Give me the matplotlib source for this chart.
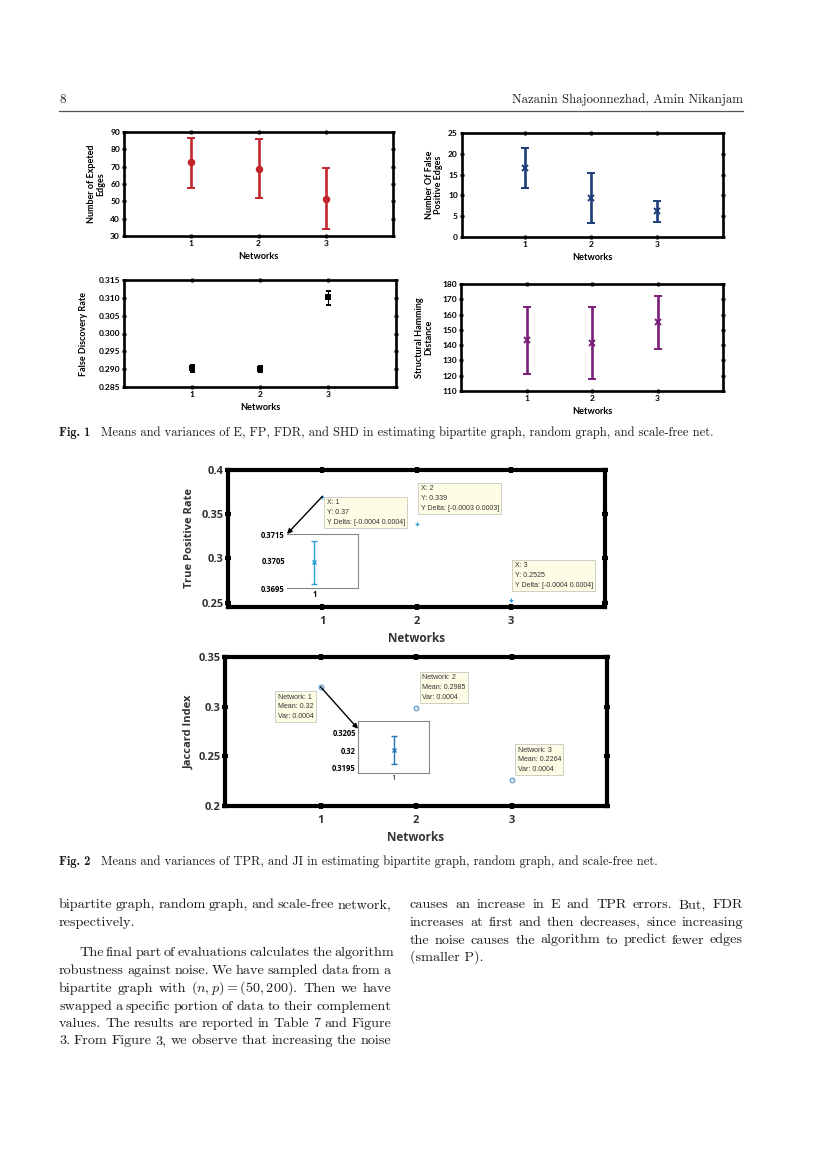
import matplotlib.pyplot as plt
import numpy as np

plt.rcParams['mathtext.fontset'] = 'cm'

W, H = 827, 1169

# ---- data ----
networks = [1, 2, 3]

e_mean = [72.9, 68.8, 51.3]
e_lo = [57.9, 51.9, 33.9]
e_hi = [86.7, 86.0, 69.0]

fp_mean = [16.6, 9.3, 6.2]
fp_lo = [11.7, 3.4, 3.7]
fp_hi = [21.4, 15.3, 8.6]

fdr_mean = [0.2902, 0.2900, 0.3101]
fdr_lo = [0.2893, 0.2892, 0.3081]
fdr_hi = [0.2911, 0.2909, 0.3120]

shd_mean = [143.2, 141.4, 155.0]
shd_lo = [120.9, 117.9, 137.3]
shd_hi = [165.2, 165.2, 172.4]

tpr_mean = [0.37, 0.339, 0.2525]
tpr_err = [0.0004, 0.0003, 0.0004]
tpr_zoom_mean = 0.37045
tpr_zoom_err = 0.0008

ji_mean = [0.32, 0.2985, 0.2264]
ji_var = [0.0004, 0.0004, 0.0004]

e_ticks = [30, 40, 50, 60, 70, 80, 90]
fp_ticks = [0, 5, 10, 15, 20, 25]
fdr_ticks = [0.285, 0.290, 0.295, 0.300, 0.305, 0.310, 0.315]
shd_ticks = [110, 120, 130, 140, 150, 160, 170, 180]
tpr_ticks = [0.25, 0.3, 0.35, 0.4]
tpr_tick_labels = ['0.25', '0.3', '0.35', '0.4']
ji_ticks = [0.2, 0.25, 0.3, 0.35]
ji_tick_labels = ['0.2', '0.25', '0.3', '0.35']
tpr_zoom_ticks = [0.3695, 0.3705, 0.3715]
ji_zoom_ticks = [0.3195, 0.32, 0.3205]
ji_zoom_labels = ['0.3195', '0.32', '0.3205']

tpr_tips = ['X: 1\nY: 0.37\nY Delta: [-0.0004 0.0004]',
            'X: 2\nY: 0.339\nY Delta: [-0.0003 0.0003]',
            'X: 3\nY: 0.2525\nY Delta: [-0.0004 0.0004]']
ji_tips = ['Network: 1\nMean: 0.32\nVar: 0.0004',
           'Network: 2\nMean: 0.2985\nVar: 0.0004',
           'Network: 3\nMean: 0.2264\nVar: 0.0004']

header_left = '8'
header_right = 'Nazanin Shajoonnezhad, Amin Nikanjam'
cap1 = ('Means and variances of E, FP, FDR, and SHD in estimating bipartite '
        'graph, random graph, and scale-free net.')
cap2 = ('Means and variances of TPR, and JI in estimating bipartite graph, '
        'random graph, and scale-free net.')
left_col = [
    ('bipartite graph, random graph, and scale-free network,', True),
    ('respectively.', False),
    ('The final part of evaluations calculates the algorithm', True),
    ('robustness against noise. We have sampled data from a', True),
    ('bipartite graph with $(n,p)=(50,200)$. Then we have', True),
    ('swapped a specific portion of data to their complement', True),
    ('values. The results are reported in Table 7 and Figure', True),
    ('3. From Figure 3, we observe that increasing the noise', True),
]
right_col = [
    ('causes an increase in E and TPR errors. But, FDR', True),
    ('increases at first and then decreases, since increasing', True),
    ('the noise causes the algorithm to predict fewer edges', True),
    ('(smaller P).', False),
]

fig = plt.figure(figsize=(8.27, 11.69), dpi=100)


def px_axes(x0, y0, x1, y1):
    return fig.add_axes([x0 / W, 1 - y1 / H, (x1 - x0) / W, (y1 - y0) / H])


def fig1_panel(ax, mean, lo, hi, color, marker, ms, lw, cap, ylim, ticks,
               fmt, ylabel, lab_x):
    yerr = [np.array(mean) - np.array(lo), np.array(hi) - np.array(mean)]
    ax.errorbar(networks, mean, yerr=yerr, fmt=marker, color=color, ms=ms,
                mew=1.4, elinewidth=lw, capsize=cap, capthick=lw)
    ax.set_xlim(0, 4)
    ax.set_ylim(*ylim)
    ax.set_xticks(networks, labels=[str(n) for n in networks],
                  fontweight='bold', family='Lato')
    ax.set_yticks(ticks, labels=[fmt % v for v in ticks],
                  fontweight='bold', family='Lato')
    ax.tick_params(direction='inout', length=3.5, width=1.8, top=True,
                   right=True, labelsize=6, pad=1.2)
    for s in ax.spines.values():
        s.set_linewidth(1.9)
    ax.set_xlabel('Networks', fontsize=6.6, fontweight='bold', family='Lato')
    ax.xaxis.set_label_coords(0.5, -0.15)
    ax.set_ylabel(ylabel, fontsize=6.5, fontweight='bold', family='Lato',
                  linespacing=1.1)
    ax.yaxis.set_label_coords(lab_x, 0.5)


ax1 = px_axes(124, 132, 393, 236)
fig1_panel(ax1, e_mean, e_lo, e_hi, '#c1272d', 'o', 4, 1.9, 3,
           (30, 90), e_ticks, '%d', 'Number of Expeted\nEdges', -0.068)
ax2 = px_axes(462, 133, 723, 237)
fig1_panel(ax2, fp_mean, fp_lo, fp_hi, '#1d3c78', 'x', 4.5, 1.9, 3,
           (0, 25), fp_ticks, '%d', 'Number Of False\nPositive Edges', -0.072)
ax2.set_xlim(0.05, 4)
ax3 = px_axes(124, 280, 396, 387)
fig1_panel(ax3, fdr_mean, fdr_lo, fdr_hi, 'black', 's', 2.6, 0.8, 1.8,
           (0.285, 0.315), fdr_ticks, '%.3f', 'False Discovery Rate', -0.134)
ax4 = px_axes(461, 284, 723, 391)
fig1_panel(ax4, shd_mean, shd_lo, shd_hi, '#7a1e7a', 'x', 4.5, 1.9, 3,
           (110, 180), shd_ticks, '%d', 'Structural Hamming\nDistance', -0.105)


def fig2_panel(ax, ylim, ticks, labels, ylabel, lab_x, xlab_y):
    ax.set_xlim(0, 4)
    ax.set_ylim(*ylim)
    ax.set_xticks(networks, labels=[str(n) for n in networks],
                  fontweight='bold', family='Open Sans', color='#333333')
    ax.set_yticks(ticks, labels=labels, fontweight='bold',
                  family='Open Sans', color='#333333')
    ax.tick_params(direction='inout', length=5, width=3, top=True,
                   right=True, labelsize=8)
    ax.tick_params(axis='y', pad=0.5)
    ax.tick_params(axis='x', pad=4)
    for s in ax.spines.values():
        s.set_linewidth(3)
    ax.set_xlabel('Networks', fontsize=8.5, fontweight='bold',
                  family='Open Sans', color='#333333')
    ax.xaxis.set_label_coords(0.5, xlab_y)
    ax.set_ylabel(ylabel, fontsize=8, fontweight='bold', family='Open Sans',
                  color='#333333')
    ax.yaxis.set_label_coords(lab_x, 0.5)


def tip(ax, x, y, s):
    ax.text(x, y, s, transform=ax.transAxes, ha='left', va='top',
            fontsize=5, family='Liberation Sans', color='#333333',
            linespacing=1.55,
            bbox=dict(boxstyle='square,pad=0.35', fc='#fdfde6',
                      ec='#c8c8c0', lw=0.6))


def inset_style(axin, spines_left=True):
    for s in axin.spines.values():
        s.set_color('#888888')
        s.set_linewidth(0.8)
    axin.spines['left'].set_visible(spines_left)
    axin.tick_params(length=0, labelsize=5.5, pad=1.5)


# TPR
ax5 = px_axes(228, 470, 605, 607)
ax5.errorbar(networks, tpr_mean, yerr=tpr_err, fmt='+', color='#2e9bd6',
             ms=3, mew=0.8, elinewidth=0.6, capsize=1)
fig2_panel(ax5, (0.245, 0.4), tpr_ticks, tpr_tick_labels,
           'True Positive Rate', -0.0875, -0.182)
tip(ax5, 0.262, 0.785, tpr_tips[0])
tip(ax5, 0.511, 0.887, tpr_tips[1])
tip(ax5, 0.760, 0.325, tpr_tips[2])

axin1 = px_axes(287, 534, 358, 588)
axin1.errorbar([1], [tpr_zoom_mean], yerr=[tpr_zoom_err], fmt='x',
               color='#2a9fd6', ms=3, mew=1, elinewidth=1, capsize=2.2,
               capthick=1)
axin1.set_xlim(0.5, 1.8)
axin1.set_ylim(0.3695, 0.3715)
axin1.set_xticks([1], labels=['1'], fontweight='bold', family='Open Sans')
axin1.set_yticks(tpr_zoom_ticks, labels=['%.4f' % v for v in tpr_zoom_ticks],
                 fontweight='bold', family='Open Sans')
inset_style(axin1, spines_left=False)
ax5.annotate('', xy=(0, 1), xycoords=axin1, xytext=(1, tpr_mean[0]),
             textcoords='data',
             arrowprops=dict(arrowstyle='-|>', color='black', lw=1,
                             mutation_scale=7, shrinkA=0, shrinkB=0))

# JI
ax6 = px_axes(225, 657, 607, 806)
ax6.errorbar(networks, ji_mean, yerr=ji_var, fmt='o', color='#4f8fc6',
             mfc='#dbe8f4', ms=3.5, mew=0.7, elinewidth=0.6, capsize=1)
fig2_panel(ax6, (0.2, 0.35), ji_ticks, ji_tick_labels, 'Jaccard Index',
           -0.081, -0.168)
tip(ax6, 0.138, 0.755, ji_tips[0])
tip(ax6, 0.517, 0.883, ji_tips[1])
tip(ax6, 0.766, 0.399, ji_tips[2])

axin2 = px_axes(358, 721, 429, 773)
axin2.errorbar([1], [ji_mean[0]], yerr=[ji_var[0]], fmt='x', color='#2376b7',
               ms=3, mew=1, elinewidth=1, capsize=2.2, capthick=1)
axin2.set_xlim(0, 2)
axin2.set_ylim(0.31936, 0.32081)
axin2.set_xticks([1], labels=['1'], family='Open Sans')
axin2.set_yticks(ji_zoom_ticks, labels=ji_zoom_labels, fontweight='bold',
                 family='Open Sans')
inset_style(axin2)
ax6.annotate('', xy=(0, 0.85), xycoords=axin2, xytext=(1, ji_mean[0]),
             textcoords='data',
             arrowprops=dict(arrowstyle='-|>', color='black', lw=1,
                             mutation_scale=7, shrinkA=0, shrinkB=0))


# ---- page text ----
def put(x, y, s, size=10.2, fam='cmr10', ha='left'):
    return fig.text(x / W, 1 - y / H, s, fontsize=size, family=fam, ha=ha,
                    va='baseline', color='#1a1a1a')


put(59, 103, header_left, size=9.5)
put(743, 103, header_right, size=9.2, ha='right')
fig.add_artist(plt.Line2D([59 / W, 743 / W], [1 - 111 / H, 1 - 111 / H],
                          color='#555555', lw=0.9))
put(59, 436, 'Fig. 1', size=9, fam='cmb10')
put(101, 436, cap1, size=9)
put(59, 865, 'Fig. 2', size=9, fam='cmb10')
put(101, 865, cap2, size=9)

fig.canvas.draw()
renderer = fig.canvas.get_renderer()


def line(text, justify, x0, x1, y):
    if not justify:
        put(x0, y, text)
        return
    words = text.split(' ')
    texts = [put(0, y, w) for w in words]
    widths = [t.get_window_extent(renderer).width for t in texts]
    gap = max((x1 - x0 - sum(widths)) / (len(words) - 1), 2.5)
    x = x0
    for t, w in zip(texts, widths):
        t.set_x(x / W)
        x += w + gap


left_y = [908, 926, 956, 974, 992, 1010, 1027, 1044]
for (txt, just), y in zip(left_col, left_y):
    x0 = 79 if txt.startswith('The final') else 59
    line(txt, just, x0, 391, y)

right_y = [908, 926, 943.5, 961]
for (txt, just), y in zip(right_col, right_y):
    line(txt, just, 410, 743, y)

fig.savefig('out.png', dpi=100)
